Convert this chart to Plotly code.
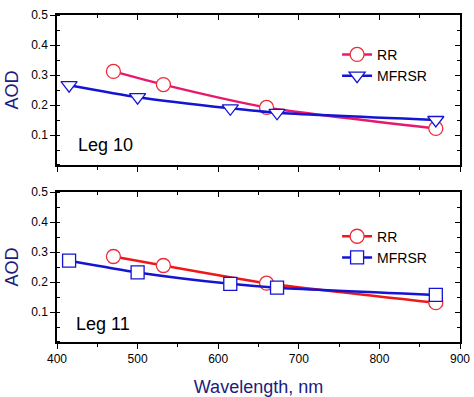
import plotly.graph_objects as go

wl_rr = [470, 532, 660, 870]
wl_mf = [415, 500, 615, 673, 870]
rr_leg10 = [0.312, 0.268, 0.192, 0.122]
mf_leg10 = [0.266, 0.226, 0.189, 0.174, 0.150]
rr_leg11 = [0.285, 0.255, 0.196, 0.131]
mf_leg11 = [0.271, 0.232, 0.194, 0.181, 0.157]
panel_labels = ["Leg 10", "Leg 11"]
y_ticks = [0.1, 0.2, 0.3, 0.4, 0.5]
x_ticks = [400, 500, 600, 700, 800, 900]

FONT = "Liberation Sans, Arial, sans-serif"
NAVY = "#1c1c7c"
BLUE = "#1414d2"
MARK_RED = "#ee2a3a"

fig = go.Figure()

def add_pair(rr, mf, rr_line, mf_symbol, xa, ya, legend):
    fig.add_trace(go.Scatter(
        x=wl_rr, y=rr, mode="lines+markers", name="RR",
        line=dict(color=rr_line, width=2.5, shape="spline", smoothing=0.6),
        marker=dict(symbol="circle", size=14, color="white",
                    line=dict(color=MARK_RED, width=1.3)),
        xaxis=xa, yaxis=ya, legend=legend))
    fig.add_trace(go.Scatter(
        x=wl_mf, y=mf, mode="lines+markers", name="MFRSR",
        line=dict(color=BLUE, width=2.5, shape="spline", smoothing=0.6),
        marker=dict(symbol=mf_symbol, size=14 if mf_symbol == "triangle-down" else 13,
                    color="white", line=dict(color=BLUE, width=1.3)),
        xaxis=xa, yaxis=ya, legend=legend))

add_pair(rr_leg10, mf_leg10, "#e8186e", "triangle-down", "x", "y", "legend")
add_pair(rr_leg11, mf_leg11, "#ee1818", "square", "x2", "y2", "legend2")

# invisible traces for mirrored (inside-tick) axes
for xa, ya in [("x3", "y3"), ("x4", "y4")]:
    fig.add_trace(go.Scatter(x=[None], y=[None], xaxis=xa, yaxis=ya,
                             showlegend=False, hoverinfo="skip"))

top_dom = [0.5413, 1.0]
bot_dom = [0.0, 0.4587]

def xaxis_main(domain_anchor, show_labels, title=None):
    d = dict(range=[400, 900], tickvals=x_ticks, ticks="outside", ticklen=5,
             tickwidth=1, tickcolor="black", showline=True, linecolor="black",
             linewidth=1.5, showgrid=False, zeroline=False, anchor=domain_anchor,
             automargin=False,
             showticklabels=show_labels, tickfont=dict(family=FONT, size=12, color="black"),
             minor=dict(dtick=50, ticks="outside", ticklen=3, tickcolor="black"))
    if title:
        d["title"] = dict(text=title, font=dict(family=FONT, size=18, color=NAVY), standoff=20)
    return d

def yaxis_main(domain, anchor):
    return dict(range=[0, 0.5], domain=domain, tickvals=y_ticks, tickformat=".1f",
                ticks="outside", ticklen=5, tickwidth=1, tickcolor="black",
                showline=True, linecolor="black", linewidth=1.5, showgrid=False,
                zeroline=False, anchor=anchor, automargin=False,
                tickfont=dict(family=FONT, size=12, color="black"),
                title=dict(text="AOD", font=dict(family=FONT, size=18, color=NAVY), standoff=8),
                minor=dict(dtick=0.05, ticks="inside", ticklen=3, tickcolor="black"))

def xaxis_top(anchor_y):
    return dict(range=[400, 900], side="top", automargin=False,
                anchor=anchor_y, tickvals=x_ticks, ticks="inside", ticklen=5,
                tickcolor="black", showticklabels=False, showline=True, linecolor="black",
                linewidth=1.5, showgrid=False, zeroline=False,
                minor=dict(dtick=50, ticks="inside", ticklen=3, tickcolor="black"))

def yaxis_right(domain, anchor_x):
    return dict(range=[0, 0.5], domain=domain, side="right", anchor=anchor_x,
                automargin=False,
                tickvals=y_ticks, ticks="inside", ticklen=5, tickcolor="black",
                showticklabels=False, showline=True, linecolor="black", linewidth=1.5,
                showgrid=False, zeroline=False,
                minor=dict(dtick=0.05, ticks="inside", ticklen=3, tickcolor="black"))

fig.update_layout(
    width=474, height=397,
    margin=dict(l=57, r=14, t=15, b=55, autoexpand=False),
    paper_bgcolor="white", plot_bgcolor="white",
    xaxis=xaxis_main("y", False),
    yaxis=yaxis_main(top_dom, "x"),
    xaxis2=xaxis_main("y2", True, "Wavelength, nm"),
    yaxis2=yaxis_main(bot_dom, "x2"),
    xaxis3=dict(xaxis_top("y3"), overlaying="x"),
    yaxis3=dict(yaxis_right(top_dom, "x3"), overlaying="y"),
    xaxis4=dict(xaxis_top("y4"), overlaying="x2"),
    yaxis4=dict(yaxis_right(bot_dom, "x4"), overlaying="y2"),
    legend=dict(x=0.695, y=0.846, xanchor="left", yanchor="middle",
                bgcolor="rgba(0,0,0,0)", font=dict(family=FONT, size=14, color="black"),
                itemwidth=30),
    legend2=dict(x=0.695, y=0.290, xanchor="left", yanchor="middle",
                 bgcolor="rgba(0,0,0,0)", font=dict(family=FONT, size=14, color="black"),
                 itemwidth=30),
    showlegend=True,
)

fig.add_annotation(x=424, y=0.067, xref="x", yref="y", text=panel_labels[0],
                   showarrow=False, xanchor="left",
                   font=dict(family=FONT, size=18, color="black"))
fig.add_annotation(x=421, y=0.06, xref="x2", yref="y2", text=panel_labels[1],
                   showarrow=False, xanchor="left",
                   font=dict(family=FONT, size=18, color="black"))

fig.write_html("out.html", config={"displayModeBar": False},
               post_script="document.body.style.margin='0';")
